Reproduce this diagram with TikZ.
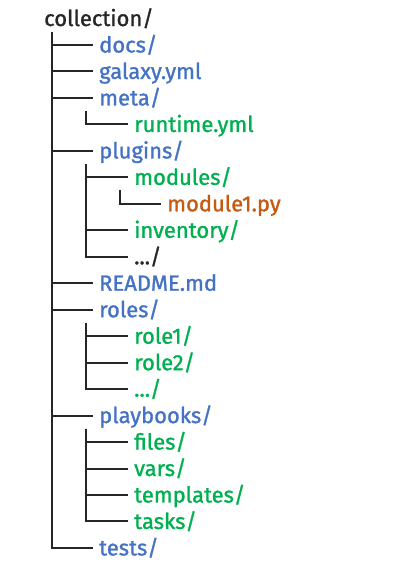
\documentclass[tikz,border=0pt]{standalone}
\usepackage{fontspec}
\setmainfont{Fira Sans}[BoldFont={Fira Sans},BoldFeatures={FakeBold=1.2}]
\usetikzlibrary{calc}
\definecolor{dirblue}{RGB}{68,114,196}
\definecolor{subgreen}{RGB}{0,176,80}
\definecolor{fileorange}{RGB}{197,90,17}
\definecolor{treeline}{RGB}{38,38,38}
\begin{document}
\begin{tikzpicture}[x=1pt,y=-1pt,
  treefont/.style={font=\fontsize{22}{26}\selectfont\bfseries},
  entry/.style={anchor=west,inner xsep=6pt,inner ysep=0pt,
    text height=17pt,text depth=2pt,treefont},
  top/.style={entry,text=dirblue},
  sub/.style={entry,text=subgreen},
  leaf/.style={entry,text=fileorange},
  branch/.style={draw=treeline,line width=2pt}]
\useasboundingbox (0,0) rectangle (404,576);
\def\dy{26.47}
% root
\node[anchor=base west,inner sep=0pt,text=treeline,treefont]
  (root) at (44,26) {collection/};
% first level
\node[top]  (docs)      at (93,{45+0*\dy})  {docs/};
\node[top]  (galaxy)    at (93,{45+1*\dy})  {galaxy.yml};
\node[top]  (meta)      at (93,{45+2*\dy})  {meta/};
\node[top]  (plugins)   at (93,{45+4*\dy})  {plugins/};
\node[top]  (readme)    at (93,{45+9*\dy})  {README.md};
\node[top]  (roles)     at (93,{45+10*\dy}) {roles/};
\node[top]  (playbooks) at (93,{45+14*\dy}) {playbooks/};
\node[top]  (tests)     at (93,{45+19*\dy}) {tests/};
% second level
\node[sub]  (runtime)   at (128,{45+3*\dy})  {runtime.yml};
\node[sub]  (modules)   at (128,{45+5*\dy})  {modules/};
\node[sub]  (inventory) at (128,{45+7*\dy})  {inventory/};
\node[text=treeline,entry] (pmore) at (128,{45+8*\dy}) {.../};
\node[sub]  (role1)     at (128,{45+11*\dy}) {role1/};
\node[sub]  (role2)     at (128,{45+12*\dy}) {role2/};
\node[sub]  (rmore)     at (128,{45+13*\dy}) {.../};
\node[sub]  (files)     at (128,{45+15*\dy}) {files/};
\node[sub]  (vars)      at (128,{45+16*\dy}) {vars/};
\node[sub]  (templates) at (128,{45+17*\dy}) {templates/};
\node[sub]  (tasks)     at (128,{45+18*\dy}) {tasks/};
% third level
\node[leaf] (module1)   at (161,{45+6*\dy})  {module1.py};
% trunk starts
\coordinate (root-v)      at (52,32);
\coordinate (meta-v)      at ($(meta.west)+(-7,13)$);
\coordinate (plugins-v)   at ($(plugins.west)+(-7,13)$);
\coordinate (modules-v)   at ($(modules.west)+(-8,13)$);
\coordinate (roles-v)     at ($(roles.west)+(-7,13)$);
\coordinate (playbooks-v) at ($(playbooks.west)+(-7,13)$);
% connectors
\foreach \c in {docs,galaxy,meta,plugins,readme,roles,playbooks,tests}
  \draw[branch] (root-v) |- (\c.west);
\draw[branch] (meta-v) |- (runtime.west);
\foreach \c in {modules,inventory,pmore}
  \draw[branch] (plugins-v) |- (\c.west);
\draw[branch] (modules-v) |- (module1.west);
\foreach \c in {role1,role2,rmore}
  \draw[branch] (roles-v) |- (\c.west);
\foreach \c in {files,vars,templates,tasks}
  \draw[branch] (playbooks-v) |- (\c.west);
\end{tikzpicture}
\end{document}
